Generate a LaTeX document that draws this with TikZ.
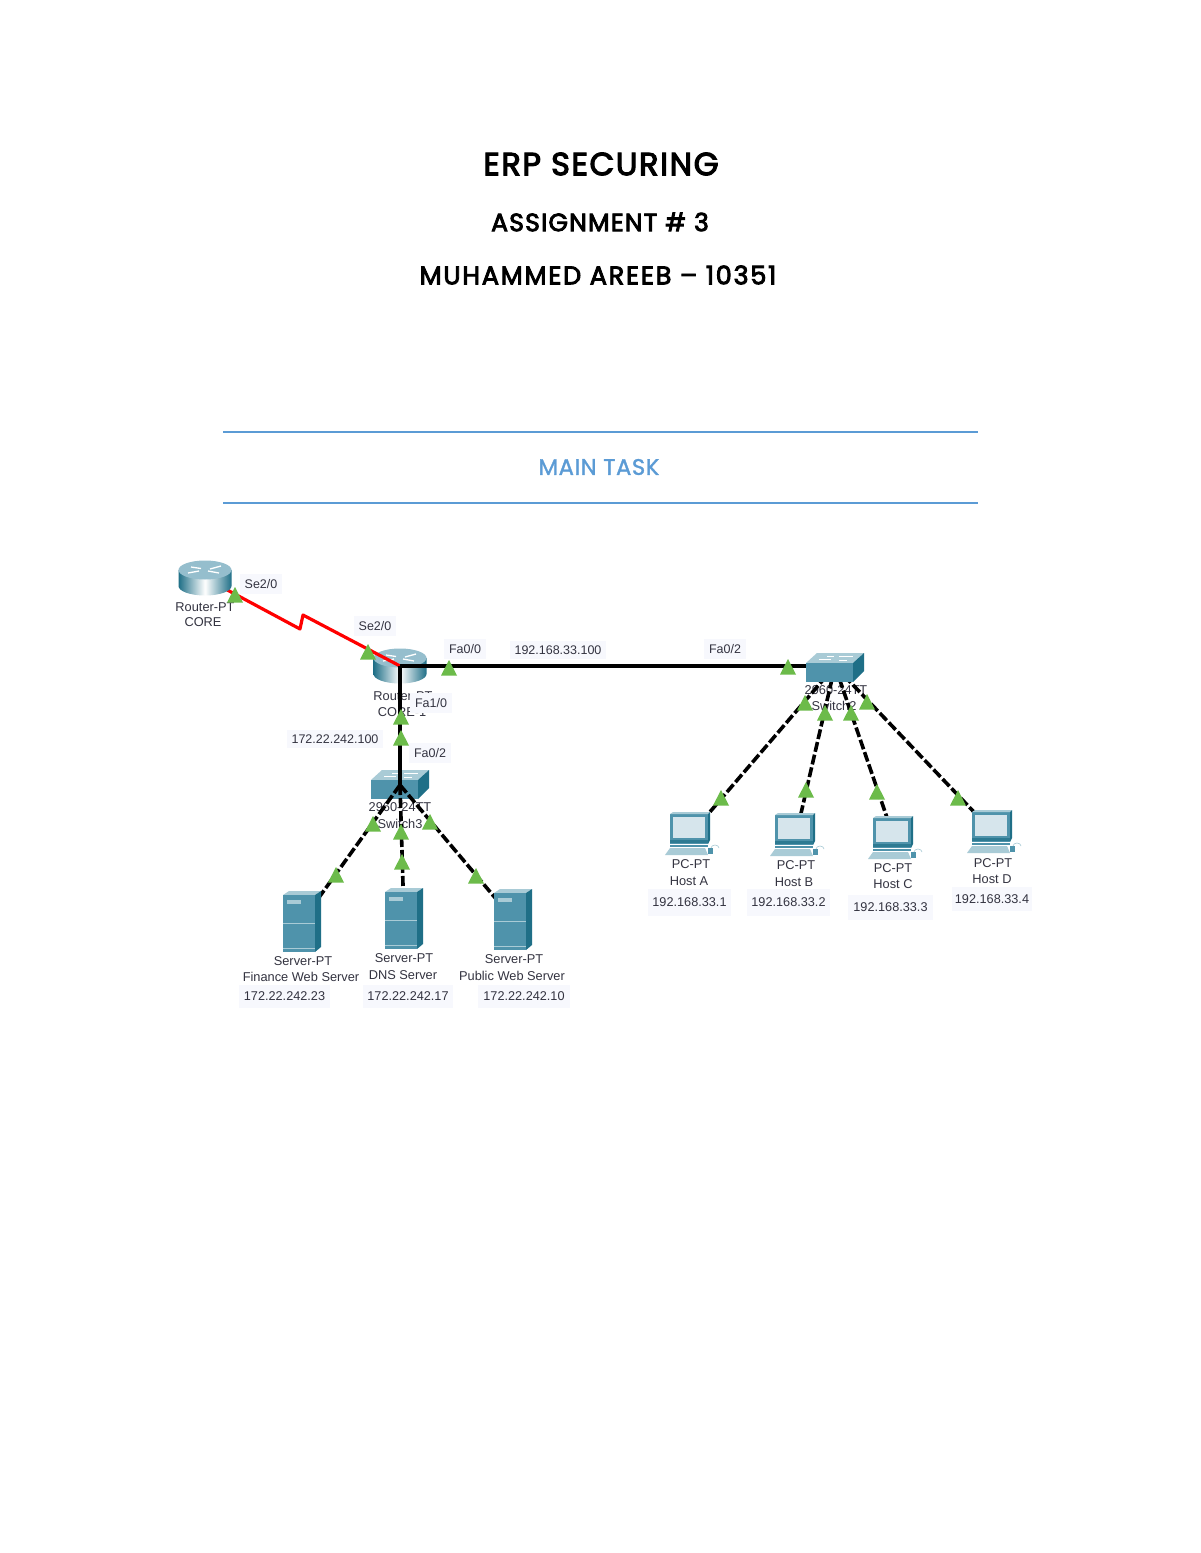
\documentclass[tikz,border=0pt]{standalone}
\usepackage{fontspec}
\setmainfont{Liberation Sans}
\newfontfamily\titlefont[FakeBold=3.5,LetterSpace=5]{Poppins}
\newfontfamily\authorfont[FakeBold=3.5,LetterSpace=7]{Poppins}
\newfontfamily\headfont[LetterSpace=3,FakeBold=1.5]{Poppins}
\usetikzlibrary{calc}
\definecolor{teal1}{HTML}{4F93AB}
\definecolor{teal2}{HTML}{1F6F87}
\definecolor{teal3}{HTML}{A9CBD6}
\definecolor{screenc}{HTML}{D6E5EC}
\definecolor{tipgreen}{HTML}{6CBB4A}
\definecolor{ruleblue}{HTML}{5B9BD5}
\definecolor{labelbg}{HTML}{F7F8FD}
\definecolor{labeltxt}{HTML}{333340}
\tikzset{
  x=1pt,y=-1pt,
  titlea/.style={font=\titlefont\fontsize{32}{36}\selectfont,text=black,inner sep=0},
  titleb/.style={font=\titlefont\fontsize{25}{29}\selectfont,text=black,inner sep=0},
  titlec/.style={font=\authorfont\fontsize{25.5}{29}\selectfont,text=black,inner sep=0},
  heading/.style={font=\headfont\fontsize{22.5}{26}\selectfont,text=ruleblue,inner sep=0},
  devtext/.style={font=\fontsize{12.8}{14}\selectfont,text=labeltxt,inner sep=0},
  porttext/.style={font=\fontsize{12.5}{15}\selectfont,text=labeltxt,fill=labelbg,inner xsep=5,inner ysep=5},
  iptext/.style={font=\fontsize{12.7}{15}\selectfont,text=labeltxt,fill=labelbg,inner sep=0},
  anchorbox/.style={inner sep=0,minimum width=#1},
  solidlink/.style={draw=black,line width=3.1},
  dashlink/.style={draw=black,line width=3.6,dash pattern=on 10 off 3},
  seriallink/.style={draw=red,line width=3.2,line join=round},
  pics/routericon/.style={code={
    \path[left color=teal2,right color=teal2,middle color=white,draw=none]
      (-26.5,-8) -- (-26.5,8) arc[x radius=26.5,y radius=9.5,start angle=180,end angle=0,] -- (26.5,-8) -- cycle;
    \fill[teal1!60!white] (0,-8) ellipse[x radius=26.5,y radius=9.5];
    \draw[white,line width=1.3] (-17,-5) -- (-6,-7) (-14,-11) -- (-4,-9.5) (16,-12) -- (5,-9) (14,-5) -- (3,-7);
  }},
  pics/switchicon/.style={code={
    \fill[teal3] (-29,-5) -- (-18,-15) -- (29,-15) -- (18,-5) -- cycle;
    \fill[teal1] (-29,-5) rectangle (18,14);
    \fill[teal2] (18,-5) -- (29,-15) -- (29,3) -- (18,14) -- cycle;
    \draw[white,line width=.8] (-16,-9) -- (-4,-9) (4,-12) -- (18,-12) (-8,-12) -- (-1,-12) (4,-8) -- (12,-8);
  }},
  pics/servericon/.style={code={
    \fill[teal3] (-19,-26) -- (-13,-30) -- (19,-30) -- (13,-26) -- cycle;
    \fill[teal1] (-19,-26) rectangle (13,31);
    \fill[teal2] (13,-26) -- (19,-30) -- (19,26) -- (13,31) -- cycle;
    \fill[teal3] (-15,-21) rectangle (-1,-17);
    \draw[teal3,line width=.4] (-19,2) -- (13,2) (-19,27) -- (13,27);
  }},
  pics/pcicon/.style={code={
    \fill[teal1] (-21,-20) rectangle (17,10);
    \fill[teal3] (-21,-20) -- (-18,-22) -- (19,-22) -- (17,-20) -- cycle;
    \fill[teal2] (17,-20) -- (19,-22) -- (19,6) -- (17,10) -- cycle;
    \fill[screenc] (-18,-17) rectangle (14,4);
    \fill[teal2!70!teal1] (-21,6) rectangle (17,9);
    \fill[teal1] (-21,11) rectangle (17,13);
    \fill[teal3] (-21,14) -- (14,14) -- (17,21) -- (-26,21) -- cycle;
    \fill[teal1] (17,14) rectangle (22,20);
    \draw[teal3,line width=.6] (20,14) arc[x radius=4,y radius=3,start angle=180,end angle=360];
  }},
}
\begin{document}
\begin{tikzpicture}
\useasboundingbox (0,0) rectangle (1200,1553);
\fill[white] (0,0) rectangle (1200,1553);

% titles and rules
\node[titlea] (title) at (601,164) {ERP SECURING};
\node[titleb] (assign) at (600,222) {ASSIGNMENT \# 3};
\node[titlec] (author) at (598,275) {MUHAMMED AREEB – 10351};
\draw[ruleblue,line width=2.4] (223,432) -- (978,432);
\draw[ruleblue,line width=1.3] (223,503) -- (978,503);
\node[heading] (task) at (599,467) {MAIN TASK};

% device anchors
\node[anchorbox=54] (rOuter) at (205,578) {};
\node[anchorbox=54] (rCore) at (400,666) {};
\node[anchorbox=58] (swThree) at (400,785) {};
\node[anchorbox=58] (swTwo) at (835,666) {};
\node[anchorbox=38] (srvA) at (302,921) {};
\node[anchorbox=38] (srvB) at (404,918) {};
\node[anchorbox=38] (srvC) at (513,919) {};
\node[anchorbox=50] (pcA) at (691,834) {};
\node[anchorbox=50] (pcB) at (796,835) {};
\node[anchorbox=50] (pcC) at (894,838) {};
\node[anchorbox=50] (pcD) at (993,832) {};

\pic at (rCore) {routericon};
\pic at (swThree) {switchicon};

\node[devtext] (tR1a) at (205,607) {Router-PT};
\node[devtext] (tR1b) at (203,622) {CORE};
\node[devtext] (tR2a) at (403,696) {Router-PT};
\node[devtext] (tR2b) at (402,712) {CORE-1};
\node[devtext] (tS3a) at (400,807) {2960-24TT};
\node[devtext] (tS3b) at (400,824) {Switch3};
\node[devtext] (tS2a) at (836,690) {2960-24TT};
\node[devtext] (tS2b) at (834,706) {Switch2};

% port labels
\node[porttext] (pSe1) at (261,584) {Se2/0};
\node[porttext] (pSe2) at (375,626) {Se2/0};
\node[porttext] (pFa0) at (465,649) {Fa0/0};
\node[porttext] (pIpA) at (558,650) {192.168.33.100};
\node[porttext] (pFa2) at (725,649) {Fa0/2};
\node[porttext] (pFa1) at (431,703) {Fa1/0};
\node[porttext] (pIpB) at (335,739) {172.22.242.100};
\node[porttext] (pFa3) at (430,753) {Fa0/2};

% connectors
\draw[seriallink] (rOuter.center) -- (300,629) -- (303,615) -- (rCore.center);
\draw[solidlink] (rCore.center) -- (swTwo.center);
\draw[solidlink] (rCore.center) -- (swThree.center);
\foreach \t in {srvA,srvB,srvC} \draw[dashlink] (swThree.center) -- (\t.center);
\foreach \t in {pcA,pcB,pcC,pcD} \draw[dashlink] (swTwo.center) -- (\t.center);

% icons drawn over the connector ends
\pic at (rOuter) {routericon};
\pic at ($(swTwo)+(0,2)$) {switchicon};
\foreach \t in {srvA,srvB,srvC} \pic at (\t) {servericon};
\foreach \t in {pcA,pcB,pcC,pcD} \pic at (\t) {pcicon};

% link lights
\foreach \x/\y in {235/595,368/652,449/668,788/667,401/717,401/738,373/824,401/832,430/822,336/875,402/862,476/876,805/703,825/713,851/713,867/702,721/798,806/790,877/792,958/798}
  \fill[tipgreen] (\x-8,\y+7.5) -- (\x,\y-8) -- (\x+8,\y+7.5) -- cycle;

% device captions
\node[devtext] (cA1) at (303,961) {Server-PT};
\node[devtext] (cA2) at (301,977) {Finance Web Server};
\node[devtext] (cB1) at (404,958) {Server-PT};
\node[devtext] (cB2) at (403,975) {DNS Server};
\node[devtext] (cC1) at (514,959) {Server-PT};
\node[devtext] (cC2) at (512,976) {Public Web Server};
\node[iptext,minimum width=91,minimum height=23] (ipA) at (284.5,996.5) {172.22.242.23};
\node[iptext,minimum width=90,minimum height=23] (ipB) at (408,996.5) {172.22.242.17};
\node[iptext,minimum width=92,minimum height=23] (ipC) at (524,996.5) {172.22.242.10};
\node[devtext] (hA1) at (691,864) {PC-PT};
\node[devtext] (hA2) at (689,881) {Host A};
\node[devtext] (hB1) at (796,865) {PC-PT};
\node[devtext] (hB2) at (794,882) {Host B};
\node[devtext] (hC1) at (893,868) {PC-PT};
\node[devtext] (hC2) at (893,884) {Host C};
\node[devtext] (hD1) at (993,863) {PC-PT};
\node[devtext] (hD2) at (992,879) {Host D};
\node[iptext,minimum width=83,minimum height=27] (ipH1) at (689.5,902.5) {192.168.33.1};
\node[iptext,minimum width=83,minimum height=27] (ipH2) at (788.5,902.5) {192.168.33.2};
\node[iptext,minimum width=85,minimum height=25] (ipH3) at (890.5,907.5) {192.168.33.3};
\node[iptext,minimum width=80,minimum height=24] (ipH4) at (992,899) {192.168.33.4};
\end{tikzpicture}
\end{document}
